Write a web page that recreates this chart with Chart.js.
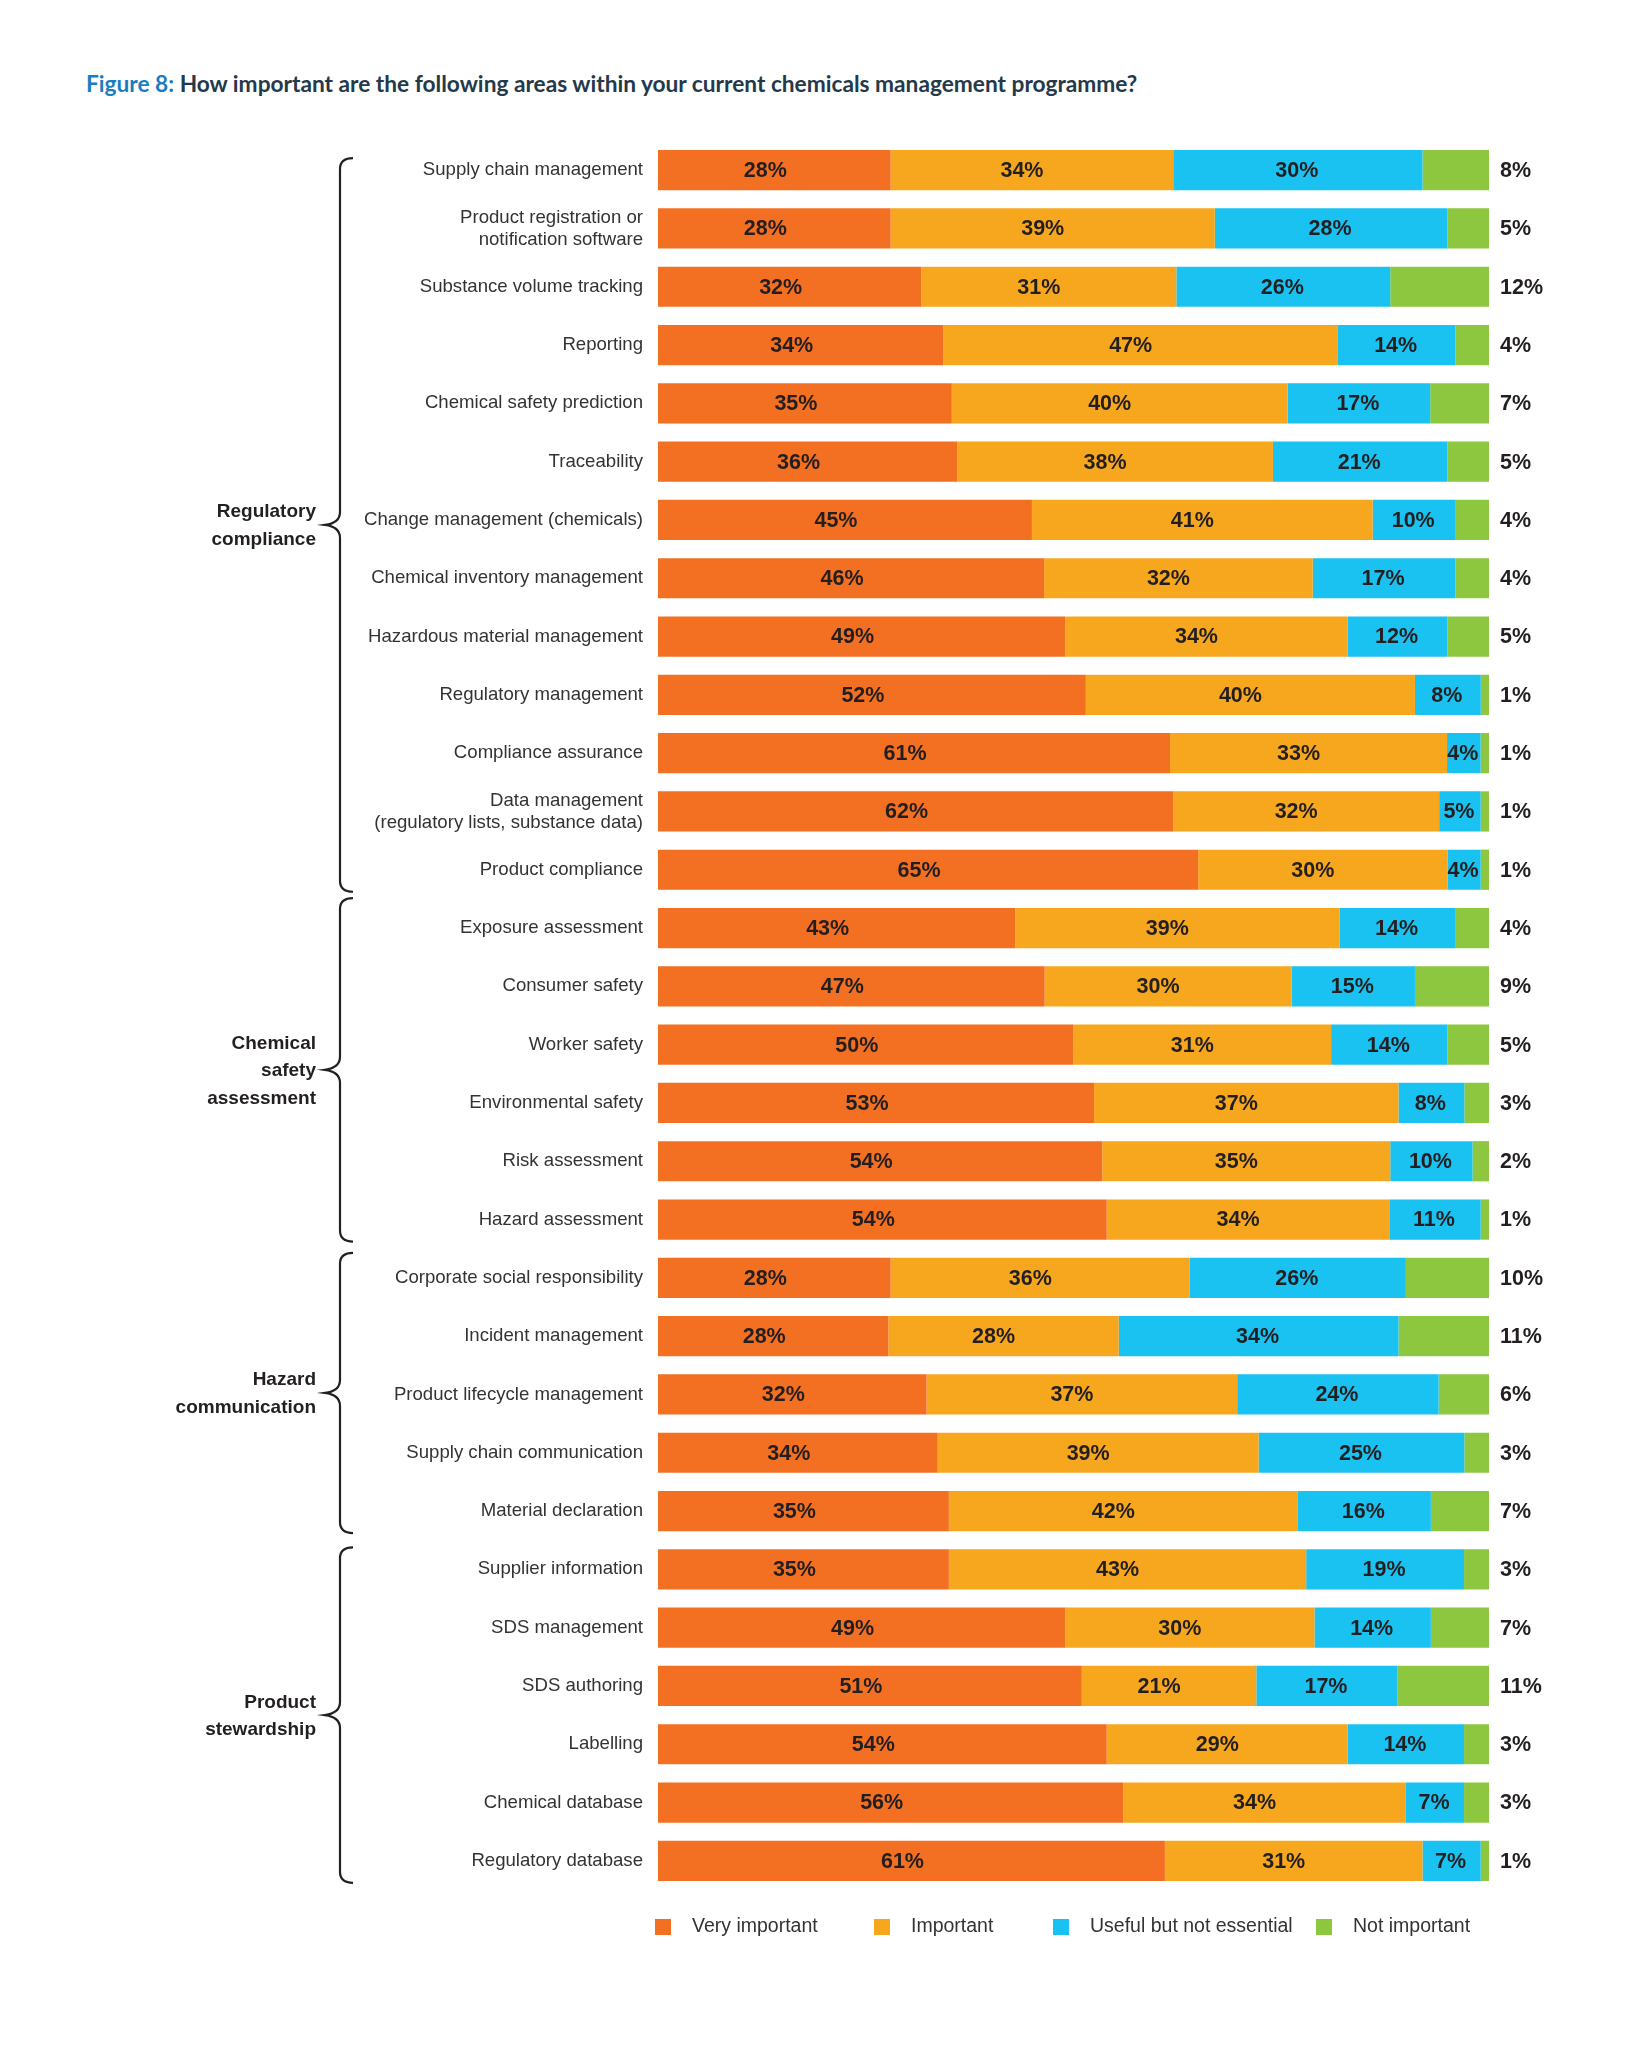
<!DOCTYPE html>
<html>
<head>
<meta charset="utf-8">
<title>Figure 8</title>
<script src="https://cdn.jsdelivr.net/npm/chart.js@4.4.1/dist/chart.umd.min.js"></script>
<style>
  body { margin: 0; background: #fff; }
  #wrap { position: relative; width: 1647px; height: 2048px; }
  #title {
    position: absolute; left: 86px; top: 70px;
    font: bold 22.7px Lato, sans-serif; color: #24394a; white-space: nowrap;
  }
  #title span { color: #1a7dc2; }
  #chart { position: absolute; left: 0; top: 0; }
</style>
</head>
<body>
<div id="wrap">
  <div id="title"><span>Figure 8:</span> How important are the following areas within your current chemicals management programme?</div>
  <canvas id="chart" width="1647" height="2048"></canvas>
</div>
<script>
const categories = [
  'Supply chain management',
  ['Product registration or', 'notification software'],
  'Substance volume tracking',
  'Reporting',
  'Chemical safety prediction',
  'Traceability',
  'Change management (chemicals)',
  'Chemical inventory management',
  'Hazardous material management',
  'Regulatory management',
  'Compliance assurance',
  ['Data management', '(regulatory lists, substance data)'],
  'Product compliance',
  'Exposure assessment',
  'Consumer safety',
  'Worker safety',
  'Environmental safety',
  'Risk assessment',
  'Hazard assessment',
  'Corporate social responsibility',
  'Incident management',
  'Product lifecycle management',
  'Supply chain communication',
  'Material declaration',
  'Supplier information',
  'SDS management',
  'SDS authoring',
  'Labelling',
  'Chemical database',
  'Regulatory database'
];

const veryImportant = [28, 28, 32, 34, 35, 36, 45, 46, 49, 52, 61, 62, 65, 43, 47, 50, 53, 54, 54, 28, 28, 32, 34, 35, 35, 49, 51, 54, 56, 61];
const important     = [34, 39, 31, 47, 40, 38, 41, 32, 34, 40, 33, 32, 30, 39, 30, 31, 37, 35, 34, 36, 28, 37, 39, 42, 43, 30, 21, 29, 34, 31];
const usefulNotEssential = [30, 28, 26, 14, 17, 21, 10, 17, 12, 8, 4, 5, 4, 14, 15, 14, 8, 10, 11, 26, 34, 24, 25, 16, 19, 14, 17, 14, 7, 7];
const notImportant  = [8, 5, 12, 4, 7, 5, 4, 4, 5, 1, 1, 1, 1, 4, 9, 5, 3, 2, 1, 10, 11, 6, 3, 7, 3, 7, 11, 3, 3, 1];

const seriesNames = ['Very important', 'Important', 'Useful but not essential', 'Not important'];
const seriesColors = ['#F37022', '#F6A71E', '#19C2F1', '#8DC63F'];

// groups: label lines + first/last category index
const groupNames = [
  ['Regulatory', 'compliance'],
  ['Chemical', 'safety', 'assessment'],
  ['Hazard', 'communication'],
  ['Product', 'stewardship']
];
const groupFirst = [0, 13, 19, 24];
const groupLast = [12, 18, 23, 29];

const rawSeries = [veryImportant, important, usefulNotEssential, notImportant];
const rowTotals = categories.map((c, i) => rawSeries.reduce((s, arr) => s + arr[i], 0));

const FONT = '"Liberation Sans", Arial, sans-serif';
const TEXT_DARK = '#231F20';

// value labels inside the bars, last series to the right of the bar
const labelShift = [-9, -10, -1];
const valueLabels = {
  id: 'valueLabels',
  afterDatasetsDraw(chart) {
    const ctx = chart.ctx;
    ctx.save();
    ctx.font = 'bold 21.5px ' + FONT;
    ctx.fillStyle = TEXT_DARK;
    ctx.textBaseline = 'middle';
    chart.data.datasets.forEach((ds, k) => {
      const meta = chart.getDatasetMeta(k);
      meta.data.forEach((bar, i) => {
        const p = bar.getProps(['x', 'y', 'base'], true);
        const txt = ds.raw[i] + '%';
        if (k < 3) {
          ctx.textAlign = 'center';
          ctx.fillText(txt, (p.x + p.base) / 2 + labelShift[k], p.y + 1);
        } else {
          ctx.textAlign = 'left';
          ctx.fillText(txt, chart.chartArea.right + 11, p.y + 1);
        }
      });
    });
    ctx.restore();
  }
};

// curly braces and group names on the left
const braceTop = [12, 30, 25, 22];
const groupBraces = {
  id: 'groupBraces',
  afterDraw(chart) {
    const ctx = chart.ctx;
    const y = chart.scales.y;
    const x = 340;
    ctx.save();
    ctx.strokeStyle = TEXT_DARK;
    ctx.lineWidth = 2.2;
    groupNames.forEach((lines, g) => {
      const top = y.getPixelForValue(groupFirst[g]) - braceTop[g];
      const bot = y.getPixelForValue(groupLast[g]) + 22;
      const mid = (top + bot) / 2;
      ctx.beginPath();
      ctx.moveTo(x + 13, top);
      ctx.quadraticCurveTo(x, top, x, top + 11);
      ctx.lineTo(x, mid - 13);
      ctx.quadraticCurveTo(x, mid - 2, x - 15, mid);
      ctx.quadraticCurveTo(x, mid + 2, x, mid + 13);
      ctx.lineTo(x, bot - 11);
      ctx.quadraticCurveTo(x, bot, x + 13, bot);
      ctx.stroke();

      ctx.font = 'bold 19px ' + FONT;
      ctx.fillStyle = TEXT_DARK;
      ctx.textAlign = 'right';
      ctx.textBaseline = 'middle';
      const lh = 27.5;
      const start = mid - (lines.length - 1) * lh / 2 + 1;
      lines.forEach((t, j) => ctx.fillText(t, 316, start + j * lh));
    });
    ctx.restore();
  }
};

// legend row under the bars
const legendXs = [655, 874, 1053, 1316];
const bottomLegend = {
  id: 'bottomLegend',
  afterDraw(chart) {
    const ctx = chart.ctx;
    const cy = 1927;
    ctx.save();
    ctx.font = '19.5px ' + FONT;
    ctx.textBaseline = 'middle';
    ctx.textAlign = 'left';
    chart.data.datasets.forEach((ds, k) => {
      ctx.fillStyle = ds.backgroundColor;
      ctx.fillRect(legendXs[k], cy - 8, 16, 16);
      ctx.fillStyle = '#333';
      ctx.fillText(ds.label, legendXs[k] + 37, cy);
    });
    ctx.restore();
  }
};

const ctx = document.getElementById('chart');
new Chart(ctx, {
  type: 'bar',
  data: {
    labels: categories,
    datasets: rawSeries.map((vals, k) => ({
      label: seriesNames[k],
      raw: vals,
      data: vals.map((v, i) => v / rowTotals[i] * 100),
      backgroundColor: seriesColors[k],
      borderWidth: 0,
      barPercentage: 0.69,
      categoryPercentage: 1
    }))
  },
  options: {
    indexAxis: 'y',
    responsive: false,
    animation: false,
    layout: { padding: { top: 141, bottom: 158, left: 0, right: 158 } },
    scales: {
      x: { stacked: true, display: false, min: 0, max: 100 },
      y: {
        stacked: true,
        grid: { display: false, drawTicks: false },
        border: { display: false },
        ticks: {
          autoSkip: false,
          padding: 15,
          color: '#333',
          font: { family: FONT, size: 18.6, lineHeight: 1.18 }
        },
        afterFit(scale) { scale.width = 658; }
      }
    },
    plugins: {
      legend: { display: false },
      tooltip: { enabled: false }
    }
  },
  plugins: [valueLabels, groupBraces, bottomLegend]
});
</script>
</body>
</html>
